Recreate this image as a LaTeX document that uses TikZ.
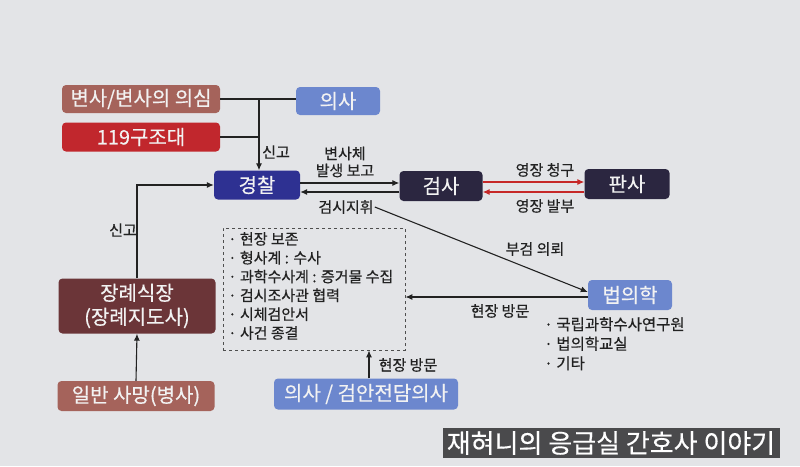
\documentclass[tikz,border=0pt]{standalone}
\usepackage{fontspec}
\setmainfont{Noto Sans CJK KR}[FakeBold=0.4]
\usetikzlibrary{arrows.meta,calc}
\definecolor{bg}{HTML}{E3E4E7}
\definecolor{cbrown}{HTML}{A5635B}
\definecolor{cblue}{HTML}{6C87CE}
\definecolor{cred}{HTML}{C1272D}
\definecolor{cpolice}{HTML}{2E3192}
\definecolor{cdark}{HTML}{2B2640}
\definecolor{cmaroon}{HTML}{6B3538}
\definecolor{carrowred}{HTML}{C62828}
\definecolor{ctext}{HTML}{222222}
\definecolor{cwm}{HTML}{4A4A4C}
\tikzset{
  box/.style={rounded corners=4pt, text=white!95!black, font=\fontsize{20}{22}\selectfont, inner sep=0pt, anchor=center},
  lbl/.style={text=ctext, font=\fontsize{15}{17}\selectfont, inner sep=1pt},
  conn/.style={draw=ctext, line width=1.1pt},
  arr/.style={conn, -{Latex[length=7pt,width=6pt]}},
  redarr/.style={draw=carrowred, line width=1.1pt, -{Latex[length=7pt,width=6pt]}},
}
\begin{document}
\begin{tikzpicture}[x=1pt,y=-1pt]
\useasboundingbox[fill=bg] (0,0) rectangle (800,466);
% boxes
\node[box, fill=cbrown, minimum width=158, minimum height=28] (byunsa) at (141,99) {변사/변사의 의심};
\node[box, fill=cblue, minimum width=84, minimum height=28] (doc1) at (338,101) {의사};
\node[box, fill=cred, minimum width=158, minimum height=29] (rescue) at (141,137) {119구조대};
\node[box, fill=cpolice, minimum width=86, minimum height=29] (police) at (257,185) {경찰};
\node[box, fill=cdark, minimum width=83, minimum height=30] (pros) at (441,186) {검사};
\node[box, fill=cdark, minimum width=85, minimum height=30] (judge) at (627,184) {판사};
\node[box, fill=cblue, minimum width=84, minimum height=30] (forensic) at (630,295) {법의학};
\node[box, fill=cmaroon, minimum width=157, minimum height=55, align=center, font=\fontsize{20}{24}\selectfont] (funeral) at (137,306) {장례식장\\(장례지도사)};
\node[box, fill=cbrown, minimum width=157, minimum height=30] (general) at (136,396) {일반 사망(병사)};
\node[box, fill=cblue, minimum width=184, minimum height=31] (doc2) at (366,394) {의사 / 검안전담의사};
% dashed box
\node[draw=ctext!80, dashed, line width=0.8pt, minimum width=182, minimum height=122, inner sep=0pt] (dbox) at (314,289) {};
\node[lbl, anchor=north west, align=left, font=\fontsize{15}{18.8}\selectfont] (dtext) at (227,231) {· 현장 보존\\· 형사계 : 수사\\· 과학수사계 : 증거물 수집\\· 검시조사관 협력\\· 시체검안서\\· 사건 종결};
% forensic list
\node[lbl, anchor=north west, align=left, font=\fontsize{15.5}{19.5}\selectfont] (flist) at (543,316) {· 국립과학수사연구원\\· 법의학교실\\· 기타};
% labels
\node[lbl] (l1) at (276,152) {신고};
\node[lbl, align=center, font=\fontsize{15}{17}\selectfont] (l2) at (345,162) {변사체\\발생 보고};
\node[lbl] (gs) at (346,207) {검시지휘};
\node[lbl] (l4) at (545,170) {영장 청구};
\node[lbl] (l5) at (545,206) {영장 발부};
\node[lbl] (l6) at (535,249) {부검 의뢰};
\node[lbl] (l7) at (500,311) {현장 방문};
\node[lbl] (l8) at (123,230) {신고};
\node[lbl] (l9) at (408,365) {현장 방문};
% connectors
\coordinate (j) at (259,99);
\draw[conn] (byunsa.east |- j) -- (doc1.west |- j);
\draw[conn] (rescue.east) -- (j |- rescue.east);
\draw[arr] (j) -- (j |- police.north);
\draw[arr] (funeral.north) |- (police.west);
\draw[arr] (general.north) -- (funeral.south);
\draw[arr] ([yshift=2pt]police.east) -- ([yshift=2pt]police.east -| pros.west);
\draw[arr] ([yshift=-6pt]pros.west) -- ([yshift=-6pt]pros.west -| police.east);
\draw[redarr] ([yshift=4pt]pros.east) -- ([yshift=4pt]pros.east -| judge.west);
\draw[redarr] ([yshift=-8pt]judge.west) -- ([yshift=-8pt]judge.west -| pros.east);
\draw[arr] (gs.east) -- ([yshift=3pt]forensic.west);
\draw[arr] ([yshift=-2pt]forensic.west) -- ([yshift=-2pt]forensic.west -| dbox.east);
\draw[arr] ([xshift=3pt]doc2.north) -- ([xshift=3pt]doc2.north |- dbox.south);
% watermark
\node[fill=cwm, text=white, minimum width=337, minimum height=30, inner sep=0pt, font=\fontsize{26}{28}\selectfont] (wm) at (611,443) {재혀니의 응급실 간호사 이야기};
\end{tikzpicture}
\end{document}
